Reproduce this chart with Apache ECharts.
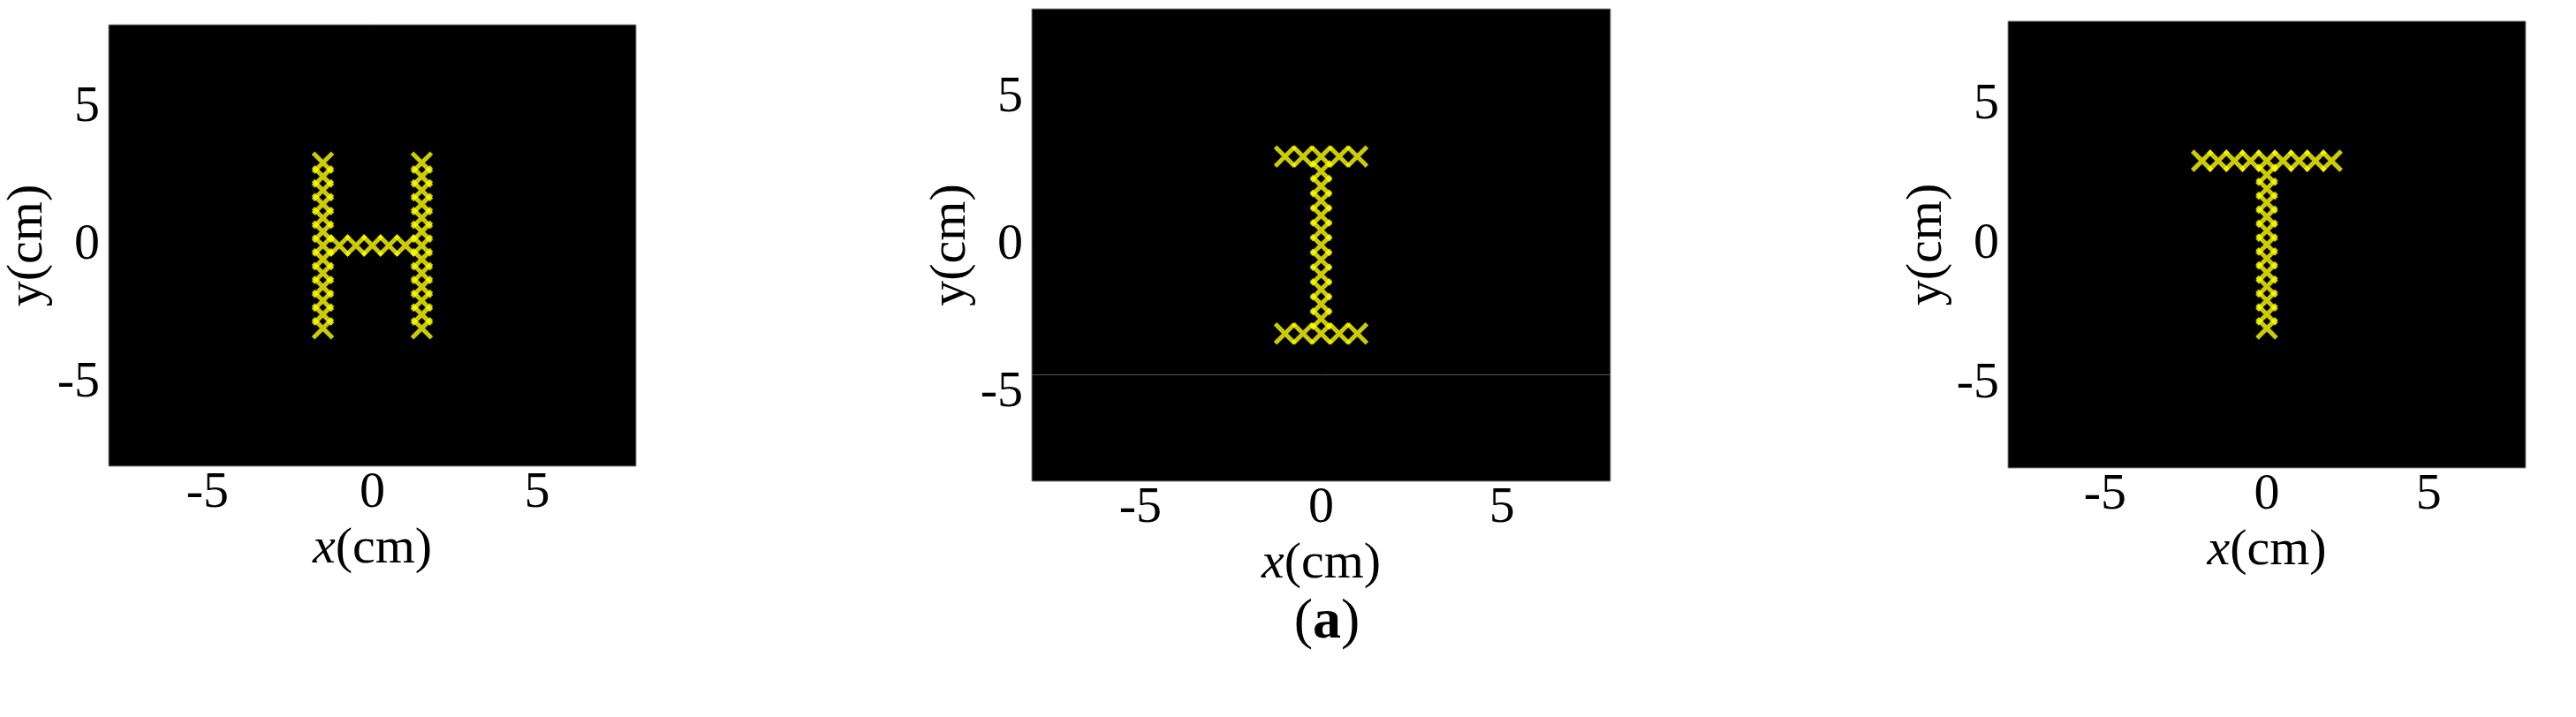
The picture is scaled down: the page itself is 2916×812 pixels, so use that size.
<!DOCTYPE html>
<html>
<head>
<meta charset="utf-8">
<script src="https://cdn.jsdelivr.net/npm/echarts@6/dist/echarts.min.js"></script>
<style>html,body{margin:0;padding:0;background:#fff}#main{width:2916px;height:812px}</style>
</head>
<body>
<div id="main"></div>
<script>
var tickVals = [-5, 0, 5];

// letter H
var hPoints = [
  [-1.5, 3], [-1.5, 2.5], [-1.5, 2], [-1.5, 1.5], [-1.5, 1], [-1.5, 0.5], [-1.5, 0],
  [-1.5, -0.5], [-1.5, -1], [-1.5, -1.5], [-1.5, -2], [-1.5, -2.5], [-1.5, -3],
  [1.5, 3], [1.5, 2.5], [1.5, 2], [1.5, 1.5], [1.5, 1], [1.5, 0.5], [1.5, 0],
  [1.5, -0.5], [1.5, -1], [1.5, -1.5], [1.5, -2], [1.5, -2.5], [1.5, -3],
  [-1, 0], [-0.5, 0], [0, 0], [0.5, 0], [1, 0]
];
// letter I
var iPoints = [
  [-1, 3], [-0.5, 3], [0, 3], [0.5, 3], [1, 3],
  [-1, -3], [-0.5, -3], [0, -3], [0.5, -3], [1, -3],
  [0, 2.5], [0, 2], [0, 1.5], [0, 1], [0, 0.5], [0, 0],
  [0, -0.5], [0, -1], [0, -1.5], [0, -2], [0, -2.5]
];
// letter T
var tPoints = [
  [-2, 3], [-1.5, 3], [-1, 3], [-0.5, 3], [0, 3], [0.5, 3], [1, 3], [1.5, 3], [2, 3],
  [0, 2.5], [0, 2], [0, 1.5], [0, 1], [0, 0.5], [0, 0],
  [0, -0.5], [0, -1], [0, -1.5], [0, -2], [0, -2.5], [0, -3]
];

var chart = echarts.init(document.getElementById('main'));
var font = 'Liberation Serif';

var grids = [
  { left: 123, top: 28, width: 597, height: 500 },
  { left: 1168, top: 10, width: 655, height: 535 },
  { left: 2273, top: 24, width: 586, height: 506 }
];

function axis(type, gi) {
  return {
    type: 'value', gridIndex: gi, min: -8, max: 8, interval: 1,
    name: type === 'x' ? '{i|x}(cm)' : 'y(cm)',
    nameLocation: 'middle',
    nameGap: type === 'x' ? 62 : 48,
    nameTextStyle: {
      fontFamily: font, fontSize: 58, color: '#000',
      rich: { i: { fontFamily: font, fontSize: 58, fontStyle: 'italic', color: '#000' } }
    },
    axisLine: { show: false },
    axisTick: { show: false },
    splitLine: { show: false },
    axisLabel: {
      fontFamily: font, fontSize: 58, color: '#000', margin: type === 'x' ? 2 : 10,
      interval: 0,
      formatter: function (v) { return tickVals.indexOf(v) >= 0 ? String(v) : ''; }
    }
  };
}

function letter(points, gi, extra) {
  var s = {
    type: 'scatter', xAxisIndex: gi, yAxisIndex: gi, data: points,
    symbol: 'path://M0,0L10,10M10,0L0,10', symbolSize: 22,
    itemStyle: { color: 'none', borderColor: '#ffff00', borderWidth: 5 },
    silent: true
  };
  if (extra) s.markLine = extra;
  return s;
}

chart.setOption({
  backgroundColor: '#fff',
  title: {
    text: '({b|a})', left: 1497, top: 668, textAlign: 'center',
    textStyle: { fontFamily: font, fontSize: 64, fontWeight: 'normal', color: '#000',
      rich: { b: { fontFamily: font, fontSize: 64, fontWeight: 'bold', color: '#000' } } }
  },
  grid: grids.map(function (g) {
    return Object.assign({ show: true, backgroundColor: '#000', borderColor: '#888', borderWidth: 1 }, g);
  }),
  xAxis: [axis('x', 0), axis('x', 1), axis('x', 2)],
  yAxis: [axis('y', 0), axis('y', 1), axis('y', 2)],
  series: [
    letter(hPoints, 0),
    letter(iPoints, 1, { silent: true, symbol: 'none', label: { show: false },
      lineStyle: { color: '#555', type: 'solid', width: 1 }, data: [{ yAxis: -4.4 }] }),
    letter(tPoints, 2)
  ]
});
</script>
</body>
</html>
